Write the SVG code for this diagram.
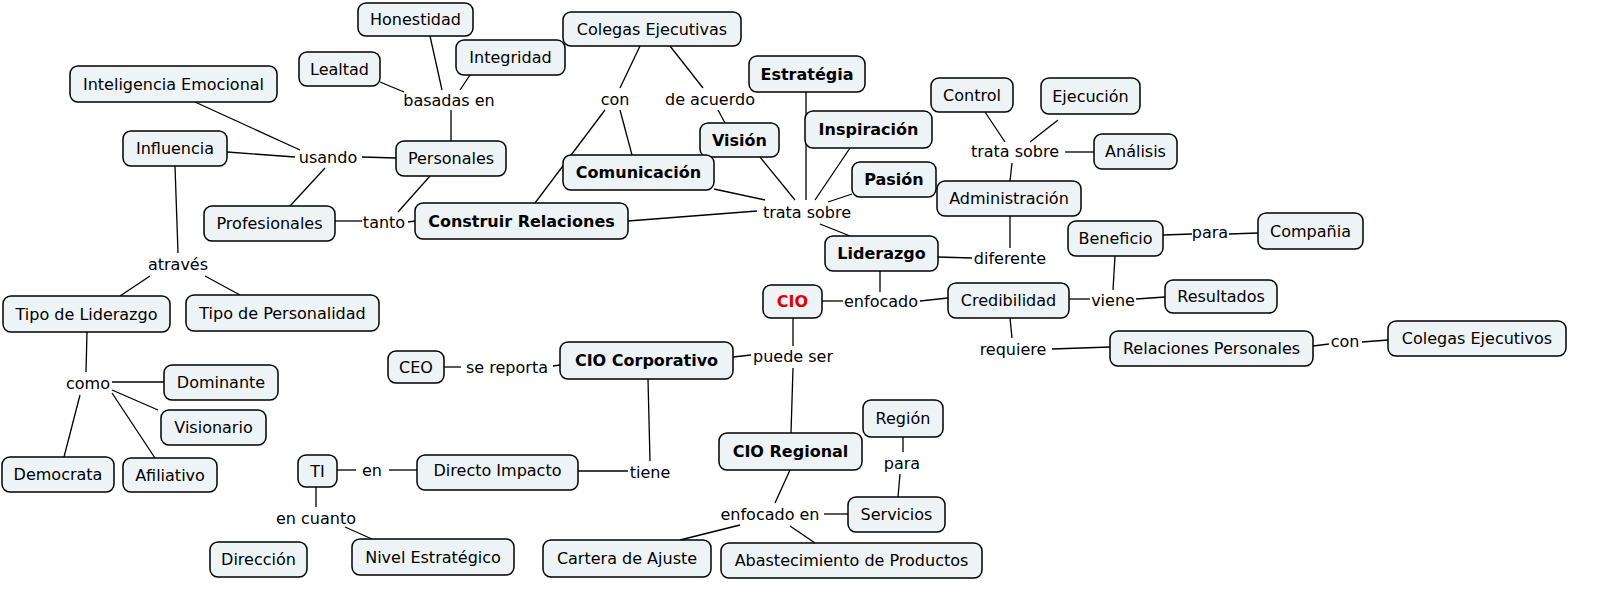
<svg xmlns="http://www.w3.org/2000/svg" width="1600" height="594" viewBox="0 0 1600 594">
<style>
.n rect{fill:#eef3f5;stroke:#000;stroke-width:1.5}
text{font-family:"DejaVu Sans",Verdana,sans-serif;font-size:16px;text-anchor:middle;dominant-baseline:central;fill:#000}
.b text{font-weight:bold}
text.red{fill:#e00000;font-weight:bold}
.l line{stroke:#000;stroke-width:1.3}
</style>
<rect width="1600" height="594" fill="#fff"/>
<g class="l">
<line x1="430" y1="36" x2="442" y2="90"/><line x1="470" y1="75" x2="460" y2="90"/><line x1="380" y1="82" x2="404" y2="92"/><line x1="451" y1="110" x2="451" y2="141"/>
<line x1="640" y1="46" x2="620" y2="88"/><line x1="620" y1="110" x2="632" y2="155"/><line x1="605" y1="110" x2="535" y2="203"/>
<line x1="670" y1="46" x2="703" y2="88"/><line x1="718" y1="110" x2="725" y2="123"/>
<line x1="195" y1="102" x2="300" y2="150"/><line x1="227" y1="152" x2="295" y2="157"/><line x1="362" y1="157" x2="396" y2="158"/><line x1="325" y1="168" x2="290" y2="206"/>
<line x1="430" y1="176" x2="398" y2="212"/><line x1="335" y1="221" x2="362" y2="221"/><line x1="408" y1="222" x2="415" y2="221"/>
<line x1="628" y1="221" x2="757" y2="211"/><line x1="714" y1="189" x2="765" y2="200"/><line x1="760" y1="157" x2="795" y2="200"/><line x1="806" y1="92" x2="806" y2="200"/><line x1="850" y1="148" x2="815" y2="200"/><line x1="852" y1="194" x2="828" y2="202"/><line x1="820" y1="224" x2="850" y2="236"/>
<line x1="938" y1="257" x2="972" y2="258"/><line x1="1010" y1="248" x2="1010" y2="216"/><line x1="1010" y1="181" x2="1012" y2="163"/><line x1="985" y1="112" x2="1005" y2="142"/><line x1="1058" y1="120" x2="1030" y2="142"/><line x1="1065" y1="152" x2="1094" y2="152"/>
<line x1="880" y1="271" x2="880" y2="292"/><line x1="822" y1="301" x2="843" y2="301"/><line x1="920" y1="301" x2="948" y2="298"/>
<line x1="1069" y1="299" x2="1090" y2="299"/><line x1="1136" y1="299" x2="1165" y2="297"/><line x1="1113" y1="290" x2="1115" y2="256"/>
<line x1="1163" y1="235" x2="1192" y2="234"/><line x1="1229" y1="234" x2="1258" y2="233"/>
<line x1="1010" y1="318" x2="1012" y2="338"/><line x1="1052" y1="349" x2="1110" y2="347"/><line x1="1313" y1="346" x2="1329" y2="344"/><line x1="1362" y1="342" x2="1388" y2="340"/>
<line x1="793" y1="318" x2="793" y2="346"/><line x1="733" y1="357" x2="751" y2="355"/><line x1="793" y1="368" x2="791" y2="433"/>
<line x1="560" y1="365" x2="553" y2="366"/><line x1="461" y1="367" x2="444" y2="367"/>
<line x1="648" y1="379" x2="650" y2="461"/><line x1="628" y1="471" x2="578" y2="471"/><line x1="417" y1="470" x2="389" y2="470"/><line x1="356" y1="470" x2="337" y2="470"/>
<line x1="316" y1="487" x2="316" y2="507"/><line x1="345" y1="527" x2="372" y2="539"/>
<line x1="175" y1="166" x2="178" y2="253"/><line x1="150" y1="276" x2="120" y2="296"/><line x1="205" y1="276" x2="240" y2="295"/>
<line x1="87" y1="332" x2="86" y2="372"/><line x1="112" y1="382" x2="164" y2="382"/><line x1="112" y1="390" x2="158" y2="410"/><line x1="112" y1="393" x2="155" y2="458"/><line x1="80" y1="395" x2="64" y2="457"/>
<line x1="903" y1="437" x2="903" y2="452"/><line x1="900" y1="474" x2="898" y2="497"/><line x1="848" y1="514" x2="824" y2="514"/>
<line x1="790" y1="470" x2="775" y2="503"/><line x1="740" y1="525" x2="680" y2="540"/><line x1="790" y1="526" x2="815" y2="543"/>
</g>
<g id="labels">
<text x="449" y="100">basadas en</text><text x="615" y="99">con</text><text x="710" y="99">de acuerdo</text><text x="328" y="157">usando</text>
<text x="1015" y="151">trata sobre</text><text x="807" y="212">trata sobre</text><text x="384" y="222">tanto</text><text x="1010" y="258">diferente</text>
<text x="1210" y="232">para</text><text x="178" y="264">através</text><text x="881" y="301">enfocado</text><text x="1113" y="300">viene</text>
<text x="1013" y="349">requiere</text><text x="1345" y="341">con</text><text x="507" y="367">se reporta</text><text x="793" y="356">puede ser</text>
<text x="88" y="383">como</text><text x="902" y="463">para</text><text x="372" y="470">en</text><text x="650" y="472">tiene</text>
<text x="316" y="518">en cuanto</text><text x="770" y="514">enfocado en</text>
</g>
<g class="n" id="honestidad"><rect x="358" y="3" width="115" height="33" rx="8"/><text x="415.5" y="19.5">Honestidad</text></g>
<g class="n" id="colegas-ejecutivas"><rect x="563" y="12" width="178" height="34" rx="8"/><text x="652" y="29">Colegas Ejecutivas</text></g>
<g class="n" id="integridad"><rect x="456" y="40" width="109" height="35" rx="8"/><text x="510.5" y="57.5">Integridad</text></g>
<g class="n" id="lealtad"><rect x="299" y="52" width="81" height="34" rx="8"/><text x="339.5" y="69">Lealtad</text></g>
<g class="n" id="inteligencia"><rect x="70" y="66" width="207" height="36" rx="8"/><text x="173.5" y="84">Inteligencia Emocional</text></g>
<g class="n b" id="estrategia"><rect x="749" y="56" width="116" height="36" rx="8"/><text x="807" y="74">Estratégia</text></g>
<g class="n" id="control"><rect x="931" y="78" width="82" height="34" rx="8"/><text x="972" y="95">Control</text></g>
<g class="n" id="ejecucion"><rect x="1041" y="78" width="99" height="36" rx="8"/><text x="1090.5" y="96">Ejecución</text></g>
<g class="n b" id="inspiracion"><rect x="805" y="111" width="127" height="37" rx="8"/><text x="868.5" y="129.5">Inspiración</text></g>
<g class="n b" id="vision"><rect x="700" y="123" width="79" height="34" rx="8"/><text x="739.5" y="140">Visión</text></g>
<g class="n" id="influencia"><rect x="123" y="131" width="104" height="35" rx="8"/><text x="175" y="148.5">Influencia</text></g>
<g class="n" id="personales"><rect x="396" y="141" width="110" height="35" rx="8"/><text x="451" y="158.5">Personales</text></g>
<g class="n" id="analisis"><rect x="1094" y="134" width="83" height="35" rx="8"/><text x="1135.5" y="151.5">Análisis</text></g>
<g class="n b" id="comunicacion"><rect x="563" y="155" width="151" height="35" rx="8"/><text x="638.5" y="172.5">Comunicación</text></g>
<g class="n b" id="pasion"><rect x="852" y="162" width="84" height="35" rx="8"/><text x="894" y="179.5">Pasión</text></g>
<g class="n" id="administracion"><rect x="937" y="181" width="144" height="35" rx="8"/><text x="1009" y="198.5">Administración</text></g>
<g class="n" id="profesionales"><rect x="204" y="206" width="131" height="35" rx="8"/><text x="269.5" y="223.5">Profesionales</text></g>
<g class="n b" id="construir"><rect x="415" y="203" width="213" height="36" rx="8"/><text x="521.5" y="221">Construir Relaciones</text></g>
<g class="n b" id="liderazgo"><rect x="825" y="236" width="113" height="35" rx="8"/><text x="881.5" y="253.5">Liderazgo</text></g>
<g class="n" id="beneficio"><rect x="1068" y="221" width="95" height="35" rx="8"/><text x="1115.5" y="238.5">Beneficio</text></g>
<g class="n" id="compania"><rect x="1258" y="213" width="105" height="36" rx="8"/><text x="1310.5" y="231">Compañia</text></g>
<g class="n" id="cio"><rect x="763" y="285" width="59" height="33" rx="8"/><text class="red" x="792.5" y="301.5">CIO</text></g>
<g class="n" id="credibilidad"><rect x="948" y="283" width="121" height="35" rx="8"/><text x="1008.5" y="300.5">Credibilidad</text></g>
<g class="n" id="resultados"><rect x="1165" y="280" width="112" height="33" rx="8"/><text x="1221" y="296.5">Resultados</text></g>
<g class="n" id="tipo-liderazgo"><rect x="3" y="296" width="167" height="36" rx="8"/><text x="86.5" y="314">Tipo de Liderazgo</text></g>
<g class="n" id="tipo-personalidad"><rect x="186" y="295" width="193" height="36" rx="8"/><text x="282.5" y="313">Tipo de Personalidad</text></g>
<g class="n" id="relaciones-personales"><rect x="1110" y="331" width="203" height="35" rx="8"/><text x="1211.5" y="348.5">Relaciones Personales</text></g>
<g class="n" id="colegas-ejecutivos"><rect x="1388" y="321" width="178" height="35" rx="8"/><text x="1477" y="338.5">Colegas Ejecutivos</text></g>
<g class="n" id="ceo"><rect x="388" y="351" width="56" height="32" rx="8"/><text x="416" y="367">CEO</text></g>
<g class="n b" id="cio-corporativo"><rect x="560" y="342" width="173" height="37" rx="8"/><text x="646.5" y="360.5">CIO Corporativo</text></g>
<g class="n" id="dominante"><rect x="164" y="365" width="114" height="35" rx="8"/><text x="221" y="382.5">Dominante</text></g>
<g class="n" id="visionario"><rect x="161" y="410" width="105" height="35" rx="8"/><text x="213.5" y="427.5">Visionario</text></g>
<g class="n" id="region"><rect x="863" y="400" width="80" height="37" rx="8"/><text x="903" y="418.5">Región</text></g>
<g class="n b" id="cio-regional"><rect x="719" y="433" width="143" height="37" rx="8"/><text x="790.5" y="451.5">CIO Regional</text></g>
<g class="n" id="ti"><rect x="298" y="455" width="39" height="32" rx="8"/><text x="317.5" y="471">TI</text></g>
<g class="n" id="directo-impacto"><rect x="417" y="455" width="161" height="35" rx="8"/><text x="497.5" y="470">Directo Impacto</text></g>
<g class="n" id="democrata"><rect x="2" y="457" width="112" height="35" rx="8"/><text x="58" y="474.5">Democrata</text></g>
<g class="n" id="afiliativo"><rect x="123" y="458" width="94" height="34" rx="8"/><text x="170" y="475">Afiliativo</text></g>
<g class="n" id="servicios"><rect x="848" y="497" width="97" height="35" rx="8"/><text x="896.5" y="514.5">Servicios</text></g>
<g class="n" id="direccion"><rect x="210" y="542" width="97" height="35" rx="8"/><text x="258.5" y="559.5">Dirección</text></g>
<g class="n" id="nivel-estrategico"><rect x="352" y="539" width="162" height="36" rx="8"/><text x="433" y="557">Nivel Estratégico</text></g>
<g class="n" id="cartera"><rect x="543" y="540" width="168" height="37" rx="8"/><text x="627" y="558.5">Cartera de Ajuste</text></g>
<g class="n" id="abastecimiento"><rect x="721" y="543" width="261" height="35" rx="8"/><text x="851.5" y="560.5">Abastecimiento de Productos</text></g>
</svg>
